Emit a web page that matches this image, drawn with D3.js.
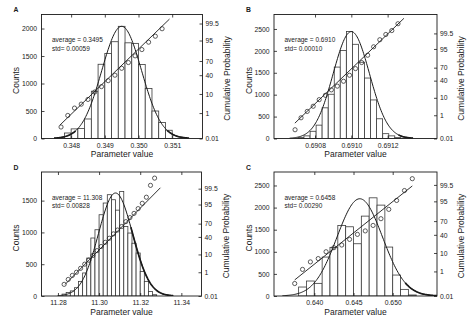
<!DOCTYPE html>
<html>
<head>
<meta charset="utf-8">
<script src="https://cdn.jsdelivr.net/npm/d3@7"></script>
<style>
  body { margin: 0; background: #fff; }
  svg { display: block; font-family: "Liberation Sans", Arial, sans-serif; }
</style>
</head>
<body>
<svg id="fig" width="474" height="326"></svg>
<script>
// ---------- shared ----------
const probTicks = [0.01, 1, 10, 40, 70, 95, 99.5];
const probTickLabels = ["0.01", "1", "10", "40", "70", "95", "99.5"];

// ---------- panel A ----------
const xDomainA = [0.34712, 0.35190];
const xTicksA = [0.348, 0.349, 0.350, 0.351];
const yTicksA = [0, 500, 1000, 1500, 2000];
const yMaxA = 2255;
const probRangeA = [0.01, 99.893];
const binWidthA = 0.0002;
const binsA = [0.3478, 0.3480, 0.3482, 0.3484, 0.3486, 0.3488, 0.3490, 0.3492,
               0.3494, 0.3496, 0.3498, 0.3500, 0.3502, 0.3504, 0.3506, 0.3508];
const countsA = [100, 175, 180, 355, 860, 1350, 1545, 1760,
                 2040, 1740, 1730, 1345, 910, 500, 290, 150];
const probXA = [0.3477, 0.3479, 0.3481, 0.3483, 0.3485, 0.3487, 0.3489, 0.3491,
                0.3493, 0.3495, 0.3497, 0.3499, 0.3501, 0.3503, 0.3505, 0.3507];
const probA = [0.1, 0.7, 2, 3.3, 5.7, 12, 19, 29, 40, 55, 67, 79, 87.5, 94, 97, 98.9];
const fitXA = [0.34767, 0.35092];
const fitPA = [0.144, 99.76];
const meanA = 0.3495, stdA = 0.00059, peakA = 2040;

// ---------- panel B ----------
const xDomainB = [0.690574, 0.691472];
const xTicksB = [0.6908, 0.6910, 0.6912];
const yTicksB = [0, 500, 1000, 1500, 2000, 2500];
const yMaxB = 2830;
const probRangeB = [0.01, 99.9896];
const binWidthB = 0.0000333;
const binsB = [0.690706, 0.690739, 0.690773, 0.690806, 0.690839, 0.690873, 0.690906, 0.690939,
               0.690973, 0.691006, 0.691039, 0.691073, 0.691106, 0.691139, 0.691173, 0.691206, 0.691239];
const countsB = [20, 60, 165, 305, 700, 1010, 1630, 2010,
                 2440, 2150, 1740, 1380, 880, 450, 110, 60, 20];
const probXB = [0.690690, 0.690723, 0.690757, 0.690790, 0.690823, 0.690857, 0.690890, 0.690923, 0.690957,
                0.690990, 0.691023, 0.691057, 0.691090, 0.691123, 0.691157, 0.691190, 0.691223, 0.691257];
const probB = [0.07, 0.66, 1.8, 3.7, 8.2, 12.9, 21, 28, 38.6,
               52.8, 68, 79.7, 89.8, 96.2, 98.6, 99.4, 99.7, 99.92];
const fitXB = [0.690689, 0.69129];
const fitPB = [0.256, 99.975];
const meanB = 0.6910, stdB = 0.00010, peakB = 2440;

// ---------- panel D ----------
const xDomainD = [11.2720, 11.3498];
const xTicksD = [11.28, 11.30, 11.32, 11.34];
const yTicksD = [0, 500, 1000, 1500];
const yMaxD = 1950;
const probRangeD = [0.01, 99.981];
const binWidthD = 0.002;
const binsD = [11.282, 11.284, 11.286, 11.288, 11.290, 11.292, 11.294, 11.296, 11.298, 11.300, 11.302, 11.304,
               11.306, 11.308, 11.310, 11.312, 11.314, 11.316, 11.318, 11.320, 11.322, 11.324, 11.326];
const countsD = [30, 55, 80, 130, 230, 362, 597, 912, 1042, 1278, 1462, 1593,
                 1514, 1350, 1645, 1094, 990, 830, 676, 387, 230, 72, 20];
const probXD = [11.283, 11.285, 11.287, 11.289, 11.291, 11.293, 11.295, 11.297, 11.299, 11.301, 11.303, 11.305,
                11.307, 11.309, 11.311, 11.313, 11.315, 11.317, 11.319, 11.321, 11.323, 11.325, 11.327];
const probD = [0.12, 0.3, 0.6, 1.0, 1.8, 3.2, 5.3, 9, 14.5, 20.7, 28.4, 37,
               47, 56, 64, 74, 81, 87, 92, 95.7, 98.1, 99.72, 99.93];
const fitXD = [11.2835, 11.3298];
const fitPD = [0.12, 99.57];
const meanD = 11.308, stdD = 0.00828, peakD = 1620;

// ---------- panel C ----------
const xDomainC = [0.63486, 0.65565];
const xTicksC = [0.640, 0.645, 0.650];
const yTicksC = [0, 500, 1000, 1500, 2000, 2500];
const yMaxC = 2805;
const probRangeC = [0.01, 99.953];
const binWidthC = 0.001;
const binsC = [0.638, 0.639, 0.640, 0.641, 0.642, 0.643, 0.644, 0.645,
               0.646, 0.647, 0.648, 0.649, 0.650, 0.651, 0.652];
const countsC = [203, 339, 286, 881, 1100, 1596, 1566, 1182,
                 1807, 2221, 2056, 1107, 474, 150, 23];
const probXC = [0.6375, 0.6385, 0.6395, 0.6405, 0.6415, 0.6425, 0.6435, 0.6445,
                0.6455, 0.6465, 0.6475, 0.6485, 0.6495, 0.6505, 0.6515, 0.6525];
const probC = [0.13, 1.35, 3.7, 5.5, 11.3, 16.3, 20.3, 30.5,
               41, 48.8, 61, 74.6, 88.3, 95.5, 98.8, 99.83];
const fitXC = [0.6375, 0.6525];
const fitPC = [0.25, 99.41];
const meanC = 0.6458, stdC = 0.0029, peakC = 2200;

// inverse of the standard normal CDF (Acklam's rational approximation)
function probit(p) {
  const a = [-3.969683028665376e+01, 2.209460984245205e+02, -2.759285104469687e+02,
             1.383577518672690e+02, -3.066479806614716e+01, 2.506628277459239e+00];
  const b = [-5.447609879822406e+01, 1.615858368580409e+02, -1.556989798598866e+02,
             6.680131188771972e+01, -1.328068155288572e+01];
  const c = [-7.784894002430293e-03, -3.223964580411365e-01, -2.400758277161838e+00,
             -2.549732539343734e+00, 4.374664141464968e+00, 2.938163982698783e+00];
  const d = [7.784695709041462e-03, 3.224671290700398e-01, 2.445134137142996e+00,
             3.754408661907416e+00];
  const pl = 0.02425, ph = 1 - pl;
  if (p < pl) {
    const q = Math.sqrt(-2 * Math.log(p));
    return (((((c[0]*q+c[1])*q+c[2])*q+c[3])*q+c[4])*q+c[5]) / ((((d[0]*q+d[1])*q+d[2])*q+d[3])*q+1);
  }
  if (p <= ph) {
    const q = p - 0.5, r = q * q;
    return (((((a[0]*r+a[1])*r+a[2])*r+a[3])*r+a[4])*r+a[5])*q / (((((b[0]*r+b[1])*r+b[2])*r+b[3])*r+b[4])*r+1);
  }
  const q = Math.sqrt(-2 * Math.log(1 - p));
  return -(((((c[0]*q+c[1])*q+c[2])*q+c[3])*q+c[4])*q+c[5]) / ((((d[0]*q+d[1])*q+d[2])*q+d[3])*q+1);
}

const svg = d3.select("#fig");
const INK = "#1a1a1a";

function drawPanel(p) {
  const g = svg.append("g");
  const x = d3.scaleLinear().domain(p.xDomain).range([p.left, p.right]);
  const y = d3.scaleLinear().domain([0, p.yMax]).range([p.bottom, p.top]);
  const yz = d3.scaleLinear()
    .domain([probit(p.probRange[0] / 100), probit(p.probRange[1] / 100)])
    .range([p.bottom, p.top]);

  const clipId = "clip" + p.letter;
  g.append("clipPath").attr("id", clipId).append("rect")
    .attr("x", p.left).attr("y", p.top)
    .attr("width", p.right - p.left).attr("height", p.bottom - p.top);
  const plot = g.append("g").attr("clip-path", `url(#${clipId})`);

  // histogram
  const bars = p.bins.map((b, i) => ({ x0: b, x1: b + p.binWidth, n: p.counts[i] }));
  plot.selectAll("rect.bar").data(bars).join("rect")
    .attr("class", "bar")
    .attr("x", d => x(d.x0))
    .attr("width", d => x(d.x1) - x(d.x0))
    .attr("y", d => y(d.n))
    .attr("height", d => y(0) - y(d.n))
    .attr("fill", "#fff")
    .attr("stroke", "#3a3a3a")
    .attr("stroke-width", 0.8);

  // fitted normal density (sampled in units of standard deviation)
  const density = z => [p.mean + z * p.std, p.peak * Math.exp(-z * z / 2)];
  const line = d3.line().x(d => x(d[0])).y(d => y(d[1]));
  plot.append("path")
    .attr("d", line(d3.range(-3.4, 3.4001, 0.04).map(density)))
    .attr("fill", "none").attr("stroke", INK).attr("stroke-width", 1);
  // heavier stroke on the tails, as plotted
  p.heavy.forEach(([z0, z1]) => {
    plot.append("path")
      .attr("d", line(d3.range(z0, z1 + 0.0001, 0.04).map(density)))
      .attr("fill", "none").attr("stroke", INK).attr("stroke-width", 1.7);
  });

  // normal probability fit line
  const fit = p.fitX.map((v, i) => [v, probit(p.fitP[i] / 100)]);
  plot.append("path")
    .attr("d", d3.line().x(d => x(d[0])).y(d => yz(d[1]))(fit))
    .attr("fill", "none").attr("stroke", INK).attr("stroke-width", 0.9);

  // cumulative probability points
  plot.selectAll("circle.cum").data(p.probX.map((v, i) => [v, p.prob[i]])).join("circle")
    .attr("class", "cum")
    .attr("cx", d => x(d[0]))
    .attr("cy", d => yz(probit(d[1] / 100)))
    .attr("r", 2.1)
    .attr("fill", "none")
    .attr("stroke", INK)
    .attr("stroke-width", 0.7);

  // frame
  g.append("rect")
    .attr("x", p.left).attr("y", p.top)
    .attr("width", p.right - p.left).attr("height", p.bottom - p.top)
    .attr("fill", "none").attr("stroke", INK).attr("stroke-width", 0.9);

  const styleAxis = sel => {
    sel.select(".domain").remove();
    sel.selectAll(".tick line").attr("stroke", INK).attr("stroke-width", 0.8);
    sel.selectAll(".tick text").attr("fill", INK).attr("font-size", 6.8);
  };

  g.append("g").attr("transform", `translate(0,${p.bottom})`)
    .call(d3.axisBottom(x).tickValues(p.xTicks).tickFormat(d3.format(p.xFormat)).tickSize(-3).tickPadding(4.4))
    .call(styleAxis);
  g.append("g").attr("transform", `translate(0,${p.top})`)
    .call(d3.axisTop(x).tickValues(p.xTicks).tickFormat("").tickSize(-3))
    .call(styleAxis);
  g.append("g").attr("transform", `translate(${p.left},0)`)
    .call(d3.axisLeft(y).tickValues(p.yTicks).tickFormat(d3.format("d")).tickSize(-3).tickPadding(4.5))
    .call(styleAxis);
  g.append("g").attr("transform", `translate(${p.right},0)`)
    .call(d3.axisRight(yz).tickValues(probTicks.map(v => probit(v / 100)))
      .tickFormat((d, i) => probTickLabels[i]).tickSize(-3).tickPadding(3))
    .call(styleAxis);

  // titles
  g.append("text")
    .attr("x", (p.left + p.right) / 2).attr("y", p.bottom + 18.5)
    .attr("text-anchor", "middle").attr("font-size", 8.5).attr("fill", INK)
    .text("Parameter value");
  g.append("text")
    .attr("transform", `translate(${p.left - 22.5},${(p.top + p.bottom) / 2 + 4}) rotate(-90)`)
    .attr("text-anchor", "middle").attr("font-size", 8.5).attr("fill", INK)
    .text("Counts");
  g.append("text")
    .attr("transform", `translate(${p.right + 27},${(p.top + p.bottom) / 2 + 2}) rotate(-90)`)
    .attr("text-anchor", "middle").attr("font-size", 8.5).attr("fill", INK)
    .text("Cumulative Probability");

  // panel letter
  g.append("text")
    .attr("x", p.left - 28).attr("y", p.top - 2.5)
    .attr("font-size", 6.8).attr("font-weight", "bold").attr("fill", INK)
    .text(p.letter);

  // fit statistics
  g.append("text")
    .attr("x", p.left + 10.5).attr("y", p.top + 27.5)
    .attr("font-size", 6.5).attr("fill", INK)
    .text(`average = ${p.meanLabel}`);
  g.append("text")
    .attr("x", p.left + 10.5).attr("y", p.top + 36)
    .attr("font-size", 6.5).attr("fill", INK)
    .text(`std= ${p.stdLabel}`);
}

drawPanel({
  letter: "A", left: 41.5, right: 202.5, top: 14.5, bottom: 138.5,
  xDomain: xDomainA, xTicks: xTicksA, xFormat: ".3f", yTicks: yTicksA, yMax: yMaxA,
  probRange: probRangeA, bins: binsA, binWidth: binWidthA, counts: countsA,
  probX: probXA, prob: probA, fitX: fitXA, fitP: fitPA,
  mean: meanA, std: stdA, peak: peakA, meanLabel: "0.3495", stdLabel: "0.00059",
  heavy: [[-3.4, -2.3], [2.3, 3.4]]
});
drawPanel({
  letter: "B", left: 274, right: 437, top: 14.5, bottom: 138.5,
  xDomain: xDomainB, xTicks: xTicksB, xFormat: ".4f", yTicks: yTicksB, yMax: yMaxB,
  probRange: probRangeB, bins: binsB, binWidth: binWidthB, counts: countsB,
  probX: probXB, prob: probB, fitX: fitXB, fitP: fitPB,
  mean: meanB, std: stdB, peak: peakB, meanLabel: "0.6910", stdLabel: "0.00010",
  heavy: [[2.6, 3.4]]
});
drawPanel({
  letter: "D", left: 41.5, right: 201.5, top: 172, bottom: 296,
  xDomain: xDomainD, xTicks: xTicksD, xFormat: ".2f", yTicks: yTicksD, yMax: yMaxD,
  probRange: probRangeD, bins: binsD, binWidth: binWidthD, counts: countsD,
  probX: probXD, prob: probD, fitX: fitXD, fitP: fitPD,
  mean: meanD, std: stdD, peak: peakD, meanLabel: "11.308", stdLabel: "0.00828",
  heavy: [[0.9, 3.4]]
});
drawPanel({
  letter: "C", left: 274, right: 437, top: 172, bottom: 296,
  xDomain: xDomainC, xTicks: xTicksC, xFormat: ".3f", yTicks: yTicksC, yMax: yMaxC,
  probRange: probRangeC, bins: binsC, binWidth: binWidthC, counts: countsC,
  probX: probXC, prob: probC, fitX: fitXC, fitP: fitPC,
  mean: meanC, std: stdC, peak: peakC, meanLabel: "0.6458", stdLabel: "0.00290",
  heavy: [[2.0, 3.4]]
});
</script>
</body>
</html>
